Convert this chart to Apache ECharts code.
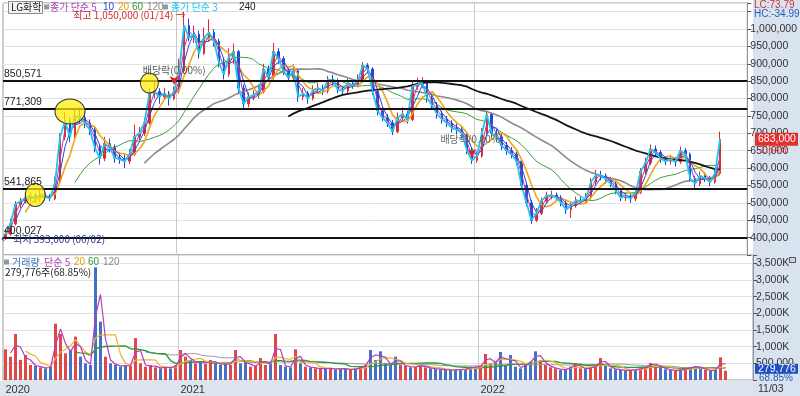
<!DOCTYPE html>
<html><head><meta charset="utf-8">
<script src="https://cdn.jsdelivr.net/npm/echarts/dist/echarts.min.js"></script>
<style>
html,body{margin:0;padding:0;background:#fff;}
#c{width:800px;height:396px;background-color:#fff;
background-image:linear-gradient(#d9e3ef,#d9e3ef),linear-gradient(#dde5ef,#dde5ef);
background-size:47px 396px,800px 15px;background-position:753px 0,0 381px;background-repeat:no-repeat;}
</style></head><body><div id="c"></div>
<script>
// ---- data (prices in thousand KRW, volume in thousand shares) ----
const dates = ['2020-06-02','2020-06-08','2020-06-14','2020-06-20','2020-06-27','2020-07-03','2020-07-09','2020-07-15','2020-07-21','2020-07-27',
'2020-08-02','2020-08-09','2020-08-15','2020-08-21','2020-08-27','2020-09-02','2020-09-08','2020-09-14','2020-09-21','2020-09-27',
'2020-10-03','2020-10-09','2020-10-15','2020-10-21','2020-10-27','2020-11-03','2020-11-09','2020-11-15','2020-11-21','2020-11-27',
'2020-12-03','2020-12-09','2020-12-15','2020-12-22','2020-12-28','2021-01-03','2021-01-09','2021-01-15','2021-01-21','2021-01-27',
'2021-02-03','2021-02-09','2021-02-15','2021-02-21','2021-02-27','2021-03-05','2021-03-11','2021-03-18','2021-03-24','2021-03-30',
'2021-04-05','2021-04-11','2021-04-17','2021-04-23','2021-04-30','2021-05-06','2021-05-12','2021-05-18','2021-05-24','2021-05-30',
'2021-06-05','2021-06-12','2021-06-18','2021-06-24','2021-06-30','2021-07-06','2021-07-12','2021-07-18','2021-07-25','2021-07-31',
'2021-08-06','2021-08-12','2021-08-18','2021-08-24','2021-08-30','2021-09-05','2021-09-12','2021-09-18','2021-09-24','2021-09-30',
'2021-10-06','2021-10-12','2021-10-18','2021-10-25','2021-10-31','2021-11-06','2021-11-12','2021-11-18','2021-11-24','2021-11-30',
'2021-12-07','2021-12-13','2021-12-19','2021-12-25','2021-12-31','2022-01-06','2022-01-12','2022-01-19','2022-01-25','2022-01-31',
'2022-02-06','2022-02-12','2022-02-18','2022-02-24','2022-03-03','2022-03-09','2022-03-15','2022-03-21','2022-03-27','2022-04-02',
'2022-04-08','2022-04-15','2022-04-21','2022-04-27','2022-05-03','2022-05-09','2022-05-15','2022-05-21','2022-05-28','2022-06-03',
'2022-06-09','2022-06-15','2022-06-21','2022-06-27','2022-07-03','2022-07-10','2022-07-16','2022-07-22','2022-07-28','2022-08-03',
'2022-08-09','2022-08-15','2022-08-21','2022-08-28','2022-09-03','2022-09-09','2022-09-15','2022-09-21','2022-09-27','2022-10-03',
'2022-10-10','2022-10-16','2022-10-22','2022-10-28','2022-11-03'];

const opens = [400,410,440,495,505,515,520,512,525,518,
 512,560,690,735,690,750,745,730,710,660,
 628,670,660,630,625,620,640,690,700,730,
 815,820,805,815,800,822,880,1010,975,985,
 930,975,990,965,905,870,920,935,830,785,
 805,810,820,885,862,935,915,880,860,880,
 805,815,800,825,830,822,855,850,825,822,
 845,838,850,895,885,820,765,745,730,705,
 745,755,740,835,840,845,800,780,755,740,
 730,715,710,700,650,622,635,700,755,700,
 690,665,650,640,620,550,500,450,470,505,
 520,522,515,500,480,492,508,505,515,560,
 580,578,568,555,535,515,520,512,530,590,
 615,655,645,628,620,625,618,650,640,570,
 555,578,570,560,585];

const closes = [410,440,495,505,515,520,512,525,518,512,
 560,690,735,690,750,745,730,710,660,628,
 670,660,630,625,620,640,690,700,730,815,
 820,805,815,800,822,880,1010,975,985,930,
 975,990,965,905,870,920,935,830,785,805,
 810,820,885,862,935,915,880,860,880,805,
 815,800,825,830,822,855,850,825,822,845,
 838,850,895,885,820,765,745,730,705,745,
 755,740,835,840,845,800,780,755,740,730,
 715,710,700,650,622,635,700,755,700,690,
 665,650,640,620,550,500,450,470,505,520,
 522,515,500,480,492,508,505,515,560,580,
 578,568,555,535,515,520,512,530,590,615,
 655,645,628,620,625,618,650,640,570,555,
 578,570,560,585,683];

const highs = [425,455,505,515,530,532,528,535,532,525,
 575,700,760,745,770,775,760,740,718,668,
 690,685,668,645,638,655,725,718,745,830,
 848,830,830,822,835,915,1050,1030,1010,995,
 1005,1028,1000,972,915,945,958,940,840,818,
 825,840,900,895,960,945,922,888,898,885,
 830,822,838,845,840,865,868,858,836,858,
 855,870,905,902,890,828,775,755,738,760,
 775,765,848,860,862,850,810,790,765,750,
 738,728,718,705,658,648,715,765,760,712,
 698,675,660,648,625,558,508,485,515,532,
 535,530,522,508,502,518,518,528,572,595,
 592,585,575,562,540,530,528,545,600,630,
 668,665,652,635,638,632,662,658,645,578,
 590,588,578,598,705];

const lows = [393,405,435,485,498,505,500,505,508,505,
 508,555,680,675,685,730,715,695,645,610,
 620,645,615,612,600,612,635,680,692,725,
 800,785,795,780,795,815,875,965,960,915,
 925,965,950,890,855,862,900,815,770,775,
 795,800,815,850,855,900,868,848,852,790,
 795,785,795,815,810,815,838,815,810,815,
 828,832,845,872,810,752,735,718,695,700,
 738,728,735,825,830,788,768,742,728,718,
 702,698,685,640,612,615,630,692,690,675,
 652,638,628,608,540,490,440,445,465,498,
 510,505,490,468,457,486,495,498,510,552,
 565,555,545,525,505,505,500,505,525,582,
 608,632,615,608,610,605,612,625,560,540,
 548,560,548,555,580];

const volumes = [920,700,1380,600,750,450,420,380,350,400,
 1690,1380,800,900,1300,700,500,450,3380,1750,
 700,500,450,400,450,420,1260,500,400,450,
 380,350,400,350,450,900,700,600,500,550,
 480,600,500,450,500,450,900,500,550,400,
 420,660,450,500,1380,450,400,380,920,500,
 400,380,350,330,360,340,320,350,330,300,
 350,380,450,900,600,860,500,450,700,450,
 420,380,400,450,380,350,330,320,300,300,
 310,320,330,400,380,420,780,500,550,840,
 450,750,400,350,500,550,860,600,450,380,
 350,300,320,400,510,350,330,380,420,660,
 450,350,320,300,280,300,320,350,400,510,
 450,380,320,300,280,300,350,380,420,350,
 300,280,300,680,280];

// support / resistance levels
const levelValues = [850.571, 771.309, 541.865, 400.027];
const levelLabels = ['850,571', '771,309', '541,865', '400,027'];
// price ticks (thousand KRW) and volume ticks (thousand shares)
const priceTicks = [350, 1075, 50];
const volTicks = [0, 3750, 500];
// MA periods expressed in points (each point ~ 4 trading days)
const priceMA = {p5: 2, p10: 3, p20: 5, p60: 15, p120: 29, p240: 58};
const volMA = {p5: 2, p20: 5, p60: 15, p120: 29};

// ---- helpers ----
const NUM = "'Liberation Sans Narrow','Liberation Sans',Arial,sans-serif";
const KR = "'Noto Sans CJK KR','Noto Sans',sans-serif";
function sma(arr, n){ const out=[]; let s=0; for(let i=0;i<arr.length;i++){ s+=arr[i]; if(i>=n) s-=arr[i-n]; out.push(i>=n-1? +(s/n).toFixed(2) : '-'); } return out; }
const fmt = v => Math.round(v).toLocaleString('en-US');
const candle = dates.map((d,i)=>[opens[i],closes[i],lows[i],highs[i]]);
const yearStart = dates.map((d,i)=> i===0 || d.slice(0,4)!==dates[i-1].slice(0,4));
const UP='#e42a2a', DOWN='#2147d6';

const chart = echarts.init(document.getElementById('c'), null, {renderer:'canvas'});

function line(name, data, color, width, xi, extra){
  return Object.assign({name, type:'line', data, xAxisIndex:xi, yAxisIndex:xi, showSymbol:false, symbol:'none',
    lineStyle:{color, width}, itemStyle:{color}, animation:false, silent:true}, extra||{});
}

const xBase = (gi) => ({type:'category', data:dates, gridIndex:gi, max:149, boundaryGap:true,
  axisLine:{show:false}, axisTick:{show:false},
  splitLine:{show:true, interval:(i)=> i>0 && !!yearStart[i], lineStyle:{color:'#c9c9c9', width:1}}});

const option = {
  animation:false,
  grid:[
    {left:3, right:47, top:3, height:252, show:true, borderColor:'#9a9a9a', borderWidth:1},
    {left:3, right:47, top:255, height:125, show:true, borderColor:'#9a9a9a', borderWidth:1}
  ],
  xAxis:[
    Object.assign(xBase(0), {axisLabel:{show:false}}),
    Object.assign(xBase(1), {axisLabel:{show:true, interval:(i)=>!!yearStart[i], formatter:(v)=>v.slice(0,4),
      align:'left', color:'#333', fontSize:11, fontFamily:NUM, margin:4}})
  ],
  yAxis:[
    {type:'value', gridIndex:0, position:'right', min:priceTicks[0], max:priceTicks[1], interval:priceTicks[2],
     axisLine:{show:true, lineStyle:{color:'#8a96a6'}}, axisTick:{show:true, length:4, lineStyle:{color:'#555'}},
     axisLabel:{margin:3, color:'#333', fontSize:10.5, fontFamily:NUM,
       formatter: v => (v<=350 || v>=1050) ? '' : fmt(v*1000)},
     splitLine:{lineStyle:{color:'#e2e2e2'}}},
    {type:'value', gridIndex:1, position:'right', min:volTicks[0], max:volTicks[1], interval:volTicks[2],
     axisLine:{show:true, lineStyle:{color:'#8a96a6'}}, axisTick:{show:true, length:4, lineStyle:{color:'#555'}},
     axisLabel:{margin:3, color:'#333', fontSize:10.5, fontFamily:NUM,
       formatter: v => (v===0 || v>3500) ? '' : (v===500 ? '500,000' : fmt(v)+'K')},
     splitLine:{lineStyle:{color:'#e2e2e2'}}}
  ],
  series:[
    {name:'price', type:'candlestick', data:candle, xAxisIndex:0, yAxisIndex:0, barWidth:2, silent:true,
     itemStyle:{color:UP, color0:DOWN, borderColor:UP, borderColor0:DOWN, borderWidth:1},
     markLine:{silent:true, symbol:['none','none'], animation:false,
       lineStyle:{color:'#111', width:2, type:'solid'},
       label:{position:'insideStartTop', color:'#222', fontSize:10.5, fontFamily:NUM, distance:[1,1]},
       data: levelValues.map((v,i)=>({yAxis:v, label:{formatter:levelLabels[i]}}))}},
    line('MA120', sma(closes, priceMA.p120), '#8a8a8a', 1.6, 0),
    line('MA60', sma(closes, priceMA.p60), '#3c9e3c', 1, 0),
    line('MA20', sma(closes, priceMA.p20), '#efa51a', 1.6, 0),
    line('MA240', sma(closes, priceMA.p240), '#141414', 1.8, 0),
    line('MA10', sma(closes, priceMA.p10), '#2c47d4', 1, 0),
    line('MA5', sma(closes, priceMA.p5), '#b03cb4', 1, 0),
    line('MA3', closes, '#1cc8ee', 1.8, 0, {
      markPoint:{silent:true, animation:false, data:[
        {coord:[6,522.6], symbol:'circle', symbolSize:[20,23], itemStyle:{color:'rgba(255,238,0,0.72)', borderColor:'#333', borderWidth:1}, label:{show:false}},
        {coord:[13,762.8], symbol:'circle', symbolSize:[30,25], itemStyle:{color:'rgba(255,238,0,0.72)', borderColor:'#333', borderWidth:1}, label:{show:false}},
        {coord:[29,844.8], symbol:'circle', symbolSize:[18,20], itemStyle:{color:'rgba(255,238,0,0.72)', borderColor:'#333', borderWidth:1}, label:{show:false}},
        {coord:[36,1050], symbol:'circle', symbolSize:1, itemStyle:{color:'rgba(0,0,0,0)'},
          label:{show:true, position:'left', distance:0, offset:[2,4], formatter:'최고 1,050,000 (01/14) →', color:'#d42a2a', fontSize:10, fontFamily:KR}},
        {coord:[0,393], symbol:'circle', symbolSize:1, itemStyle:{color:'rgba(0,0,0,0)'},
          label:{show:true, position:'right', distance:0, offset:[-5,-1], formatter:'← 최저 393,000 (06/02)', color:'#27348b', fontSize:10, fontFamily:KR}},
        {coord:[34,839], symbol:'arrow', symbolRotate:180, symbolSize:[7,9], itemStyle:{color:'#e02020'},
          label:{show:true, position:'top', distance:1, formatter:'배당락(0.00%)', color:'#555', fontSize:10, fontFamily:KR}},
        {coord:[94,629], symbol:'arrow', symbolRotate:180, symbolSize:[7,9], itemStyle:{color:'#e02020'},
          label:{show:true, position:'top', distance:5, formatter:'배당락(0.00%)', color:'#666', fontSize:10, fontFamily:KR}}
      ]}}),
    {name:'volume', type:'bar', data:volumes, xAxisIndex:1, yAxisIndex:1, barWidth:3, silent:true,
     itemStyle:{color:(p)=> closes[p.dataIndex] >= opens[p.dataIndex] ? '#e04848' : '#4470c8'}},
    line('V120', sma(volumes, volMA.p120), '#9a9a9a', 1, 1),
    line('V60', sma(volumes, volMA.p60), '#2f9a3a', 1.4, 1),
    line('V20', sma(volumes, volMA.p20), '#f0b030', 1.2, 1),
    line('V5', sma(volumes, volMA.p5), '#b83cc0', 1.2, 1)
  ]
};
chart.setOption(option);

// ---- text overlays (legends, tags) ----
function T(x, y, text, color, font, align){
  return {type:'text', x, y, z:100, silent:true, style:{text, fill:color, font:font||('10px '+KR), textAlign:align||'left', textVerticalAlign:'middle', verticalAlign:'middle'}};
}
function R(x, y, w, h, fill, stroke){
  return {type:'rect', z:99, silent:true, shape:{x, y, width:w, height:h}, style:{fill, stroke:stroke||null, lineWidth:1}};
}
const yp = chart.convertToPixel({yAxisIndex:0}, closes[closes.length-1]);
const yv = chart.convertToPixel({yAxisIndex:1}, 279.776);
const g = [
  R(8.5,1.5,34,12,'#f3f3f3','#8c8c8c'),
  T(11,7.5,'LG화학','#222'),
  R(44,4.5,5,5,'#8f9aa6'),
  T(50,7,'종가 단순 5','#b03cb4'),
  T(103,7,'10','#2c47d4','10px '+NUM),
  T(118,7,'20','#e8a000','10px '+NUM),
  T(132,7,'60','#2f9a3a','10px '+NUM),
  T(147,7,'120','#8a8a8a','10px '+NUM),
  R(163,4.5,5,5,'#8f9aa6'),
  T(171,7,'종가 단순 3','#1cc8ee'),
  T(239,7,'240','#222','10px '+NUM),
  T(754,5,'LC:73.79','#d03030','10px '+NUM),
  T(754,14,'HC:-34.99','#2a5ab8','10px '+NUM),
  R(755,yp-6.5,43,13,'#e2302f'),
  T(758,yp,fmt(closes[closes.length-1]*1000),'#ffffff','10.5px '+NUM),
  T(760,yp+11,'1.64%','#e03030','10px '+NUM),
  R(4,259.5,5,5,'#8f9aa6'),
  T(12,262,'거래량','#3778c0'),
  T(44,262,'단순 5','#b03cb4'),
  T(74,262,'20','#e8a000','10px '+NUM),
  T(88,262,'60','#2f9a3a','10px '+NUM),
  T(103,262,'120','#8a8a8a','10px '+NUM),
  T(5,272.5,'279,776주(68.85%)','#222'),
  R(789.5,257.5,6,5,'#cfd6de','#555'),
  R(755,yv-7,43,10,'#1f4fc0'),
  T(758,yv-2,'279,776','#ffffff','10.5px '+NUM),
  T(759,yv+8,'68.85%','#2a5ab8','10px '+NUM),
  T(758,389,'11/03','#333','10.5px '+NUM)
];
chart.setOption({graphic:g});
</script></body></html>
